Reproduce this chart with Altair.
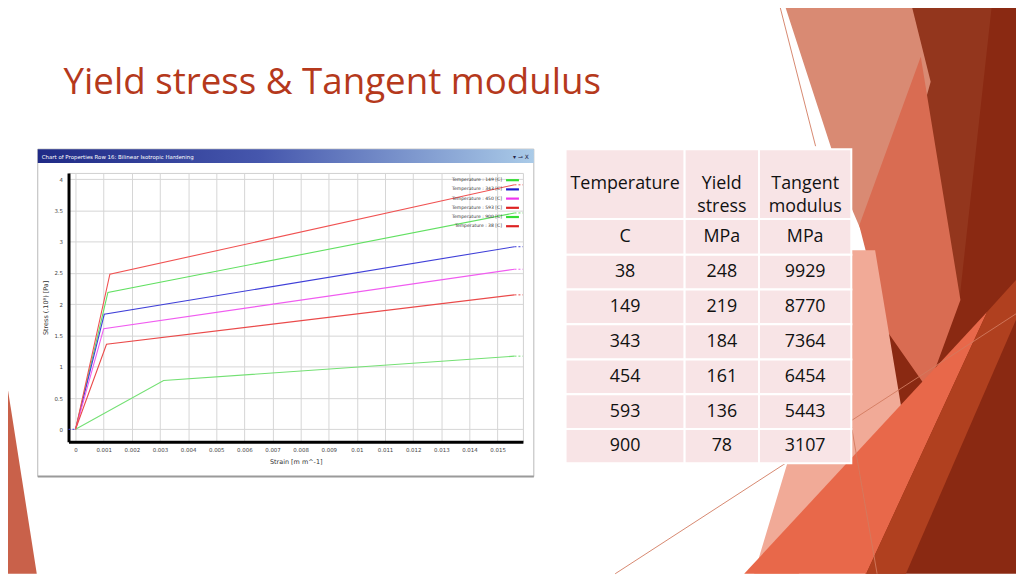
import pandas as pd
import altair as alt

# Bilinear hardening curves (strain in m/m, stress in 10^8 Pa)
temps = ["149", "343", "450", "593", "900", "38"]
yield_strain = [0.00115, 0.00102, 0.00100, 0.00110, 0.00313, 0.00122]
yield_stress = [2.19, 1.84, 1.61, 1.36, 0.78, 2.48]
end_strain = [0.0156, 0.0156, 0.0156, 0.0156, 0.0156, 0.0156]
end_stress = [3.46, 2.92, 2.56, 2.15, 1.17, 3.91]

x_ticks = [0, 0.001, 0.002, 0.003, 0.004, 0.005, 0.006, 0.007,
           0.008, 0.009, 0.01, 0.011, 0.012, 0.013, 0.014, 0.015]
y_ticks = [0, 0.5, 1, 1.5, 2, 2.5, 3, 3.5, 4]

# Table on the right of the slide
tab_head = ["Temperature", "Yield\nstress", "Tangent\nmodulus"]
tab_units = ["C", "MPa", "MPa"]
tab_temp = [38, 149, 343, 454, 593, 900]
tab_yield = [248, 219, 184, 161, 136, 78]
tab_tangent = [9929, 8770, 7364, 6454, 5443, 3107]

# Styles
line_colors = ["#62e062", "#3f3fd8", "#f05cf0", "#ea4a4a", "#74e074", "#f05252"]
swatch_colors = ["#33dd33", "#1a1acc", "#ee33ee", "#dd2222", "#33dd33", "#dd2222"]

# Layout: the plot area sits at slide pixel (69, 172), 458 x 271
PLOT_X, PLOT_Y = 69, 172
X_DOM = [-0.00025, 0.0159]
Y_DOM = [-0.2, 4.1]


def px(x):
    return x - PLOT_X


def py(y):
    return y - PLOT_Y


one = pd.DataFrame({"a": [0]})
PX = alt.Scale(domain=[0, 1024], range=[px(0), px(1024)], nice=False, zero=False)
PY = alt.Scale(domain=[0, 576], range=[py(0), py(576)], nice=False, zero=False)

# Slide decoration (slide pixel coordinates), back to front
shapes = [
    ("#8a2912", [(915, 0), (1024, 0), (1024, 576), (872, 576)]),
    ("#93361d", [(915, 0), (1000, 0), (967, 300), (940, 310)]),
    ("#d98a73", [(790, 0), (918, 0), (938, 80), (885, 270), (855, 200)]),
    ("#d96c52", [(928, 55), (968, 300), (935, 390), (893, 330), (866, 225)]),
    ("#f1aa97", [(858, 250), (882, 250), (912, 430), (805, 576), (760, 576)]),
    ("#e8684a", [(750, 576), (995, 312), (873, 576)]),
    ("#b0401f", [(873, 576), (995, 312), (1024, 280), (1024, 320), (913, 576)]),
    ("#c9614a", [(0, 340), (37, 576), (0, 576)]),
]
thin_lines = [
    [(785, 0), (822, 145)],
    [(620, 576), (1024, 314)],
    [(856, 415), (884, 576)],
]


def slices(pts):
    """Horizontal slices of a convex polygon, for an area mark."""
    out = []
    n = len(pts)
    for y in sorted(set(p[1] for p in pts)):
        xs = []
        for i in range(n):
            (x1, y1), (x2, y2) = pts[i], pts[(i + 1) % n]
            if min(y1, y2) <= y <= max(y1, y2):
                if y1 == y2:
                    xs += [x1, x2]
                else:
                    xs.append(x1 + (x2 - x1) * (y - y1) / (y2 - y1))
        out.append({"y": y, "xl": min(xs), "xr": max(xs)})
    return pd.DataFrame(out)


deco = []
for col, pts in shapes:
    deco.append(
        alt.Chart(slices(pts)).mark_area(orient="horizontal", color=col).encode(
            y=alt.Y("y:Q", scale=PY, axis=None),
            x=alt.X("xl:Q", scale=PX, axis=None),
            x2="xr:Q",
        ))
seg_df = pd.DataFrame([{"seg": k, "x": x, "y": y}
                       for k, pts in enumerate(thin_lines) for x, y in pts])
deco.append(
    alt.Chart(seg_df).mark_line(color="#d27a60", strokeWidth=0.9).encode(
        x=alt.X("x:Q", scale=PX, axis=None),
        y=alt.Y("y:Q", scale=PY, axis=None),
        detail="seg:N",
    ))

# Slide title
title = alt.Chart(one).mark_text(
    text="Yield stress & Tangent modulus", font="Open Sans", fontSize=37,
    color="#b5391c", align="left", baseline="alphabetic"
).encode(x=alt.value(px(64)), y=alt.value(py(92)))

# Table
table_rows = [tab_head, tab_units] + [
    [str(a), str(b), str(c)] for a, b, c in zip(tab_temp, tab_yield, tab_tangent)]
cells = pd.DataFrame([{"r": r, "c": c, "txt": t}
                      for r, row in enumerate(table_rows) for c, t in enumerate(row)])
col_scale = alt.Scale(domain=[0, 1, 2, 3], range=[px(570), px(690), px(765), px(858)],
                      nice=False, zero=False)
row_scale = alt.Scale(domain=list(range(9)),
                      range=[py(v) for v in [148, 218.5, 254.5, 289.5, 324.5, 360, 395, 430, 464.5]],
                      nice=False, zero=False)

table_bg = alt.Chart(cells).transform_calculate(
    c1="datum.c + 1", r1="datum.r + 1"
).mark_rect(fill="#f8e4e6", stroke="white", strokeWidth=2).encode(
    x=alt.X("c:Q", scale=col_scale, axis=None), x2="c1:Q",
    y=alt.Y("r:Q", scale=row_scale, axis=None), y2="r1:Q",
)
table_txt = alt.Chart(cells).transform_calculate(
    cm="datum.c + 0.5", rm="datum.r + 0.5"
).mark_text(font="Open Sans", fontSize=18, color="#111111", lineBreak="\n",
            lineHeight=23, baseline="middle").encode(
    x=alt.X("cm:Q", scale=col_scale, axis=None),
    y=alt.Y("rm:Q", scale=row_scale, axis=None),
    text="txt:N",
)

# Chart window chrome
window = alt.Chart(one).mark_rect(fillOpacity=0, stroke="#b8b8b8", strokeWidth=1).encode(
    x=alt.value(px(38)), x2=alt.value(px(538)), y=alt.value(py(148)), y2=alt.value(py(478)))
window_base = alt.Chart(one).mark_rule(color="#9a9a9a", strokeWidth=2).encode(
    x=alt.value(px(38)), x2=alt.value(px(538)), y=alt.value(py(478)))
bar_fill = alt.LinearGradient(
    gradient="linear", x1=0, x2=1, y1=0, y2=0,
    stops=[alt.GradientStop(color="#1f2a86", offset=0),
           alt.GradientStop(color="#4657ad", offset=0.45),
           alt.GradientStop(color="#aacbe8", offset=1)])
title_bar = alt.Chart(one).mark_rect(fill=bar_fill).encode(
    x=alt.value(px(38)), x2=alt.value(px(538)), y=alt.value(py(148)), y2=alt.value(py(162)))
bar_text = alt.Chart(one).mark_text(
    text="Chart of Properties Row 16: Bilinear Isotropic Hardening", font="DejaVu Sans",
    fontSize=5.5, color="white", align="left", baseline="middle"
).encode(x=alt.value(px(42)), y=alt.value(py(155.5)))
bar_icons = alt.Chart(one).mark_text(
    text="▾  ⊸  X", font="DejaVu Sans", fontSize=6, color="#222244",
    align="right", baseline="middle"
).encode(x=alt.value(px(533)), y=alt.value(py(155.5)))

# Legend inside the plot (drawn by hand, labels left of the swatches)
legend_df = pd.DataFrame({"i": list(range(len(temps))),
                          "label": [f"Temperature : {t} [C]" for t in temps]})
leg_y = alt.Scale(domain=[0, 5], range=[py(179.3), py(225.7)], nice=False, zero=False)
leg_text = alt.Chart(legend_df).mark_text(
    font="DejaVu Sans", fontSize=4.6, color="#333333", align="right", baseline="middle"
).encode(x=alt.value(px(506)), y=alt.Y("i:Q", scale=leg_y, axis=None), text="label:N")
leg_swatch = alt.Chart(legend_df).mark_rule(strokeWidth=2.2).encode(
    x=alt.value(px(510)), x2=alt.value(px(523)),
    y=alt.Y("i:Q", scale=leg_y, axis=None),
    color=alt.Color("label:N", scale=alt.Scale(domain=list(legend_df["label"]),
                                               range=swatch_colors), legend=None),
)

# Stress-strain curves
rows = []
for t, ys, yv, es, ev in zip(temps, yield_strain, yield_stress, end_strain, end_stress):
    rows.append({"temp": t, "strain": 0.0, "stress": 0.0, "k": 0})
    rows.append({"temp": t, "strain": ys, "stress": yv, "k": 1})
    rows.append({"temp": t, "strain": es, "stress": ev, "k": 2})
curves = pd.DataFrame(rows)
ends = pd.DataFrame({"temp": temps, "strain": end_strain, "stress": end_stress})

x_axis = alt.Axis(
    orient="bottom", values=x_ticks, format=".3~f", grid=True, gridColor="#d6d6d6",
    domainColor="black", domainWidth=3, ticks=False, labelFont="DejaVu Sans",
    labelFontSize=5.5, labelColor="#444444", labelPadding=6, labelFlush=False,
    labelOverlap=False, title="Strain  [m m^-1]", titleFont="DejaVu Sans",
    titleFontSize=6.5, titleFontWeight="normal", titleColor="#333333", titlePadding=5)
y_axis = alt.Axis(
    orient="left", values=y_ticks, format=".1~f", grid=True, gridColor="#d6d6d6",
    domainColor="black", domainWidth=3, ticks=False, labelFont="DejaVu Sans",
    labelFontSize=5.5, labelColor="#444444", labelPadding=6, labelFlush=False,
    labelOverlap=False, title="Stress  (.10⁸)  [Pa]", titleFont="DejaVu Sans",
    titleFontSize=6.5, titleFontWeight="normal", titleColor="#333333", titlePadding=5)

xs = alt.Scale(domain=X_DOM, nice=False, zero=False)
ysc = alt.Scale(domain=Y_DOM, nice=False, zero=False)
cs = alt.Scale(domain=temps, range=line_colors)

lines = alt.Chart(curves).mark_line(strokeWidth=1.1).encode(
    x=alt.X("strain:Q", scale=xs, axis=x_axis),
    y=alt.Y("stress:Q", scale=ysc, axis=y_axis),
    color=alt.Color("temp:N", scale=cs, legend=None),
    detail="temp:N",
    order="k:Q",
)
# dotted continuation of each curve to the right edge of the plot
tails = alt.Chart(ends).mark_rule(strokeWidth=1, strokeDash=[2, 2]).encode(
    x=alt.X("strain:Q", scale=xs, axis=None),
    x2=alt.datum(X_DOM[1]),
    y=alt.Y("stress:Q", scale=ysc, axis=None),
    color=alt.Color("temp:N", scale=cs, legend=None),
)
lead = alt.Chart(one).mark_rule(strokeWidth=1, strokeDash=[2, 2], color="#3f3fd8").encode(
    x=alt.X(datum=X_DOM[0], scale=xs, axis=None),
    x2=alt.datum(0),
    y=alt.Y(datum=0, scale=ysc, axis=None),
)

chart = alt.layer(
    *deco, title, table_bg, table_txt,
    window, window_base, title_bar, bar_text, bar_icons,
    lines, tails, lead, leg_text, leg_swatch,
).resolve_scale(
    x="independent", y="independent", color="independent"
).properties(
    width=458, height=271,
    padding={"left": 61, "top": 164, "right": 497, "bottom": 133},
    autosize=alt.AutoSizeParams(type="none"),
    background="white",
).configure_view(stroke="#d0d0d0", strokeWidth=1)

chart.save("out.html", embed_options={"renderer": "svg", "actions": False})
